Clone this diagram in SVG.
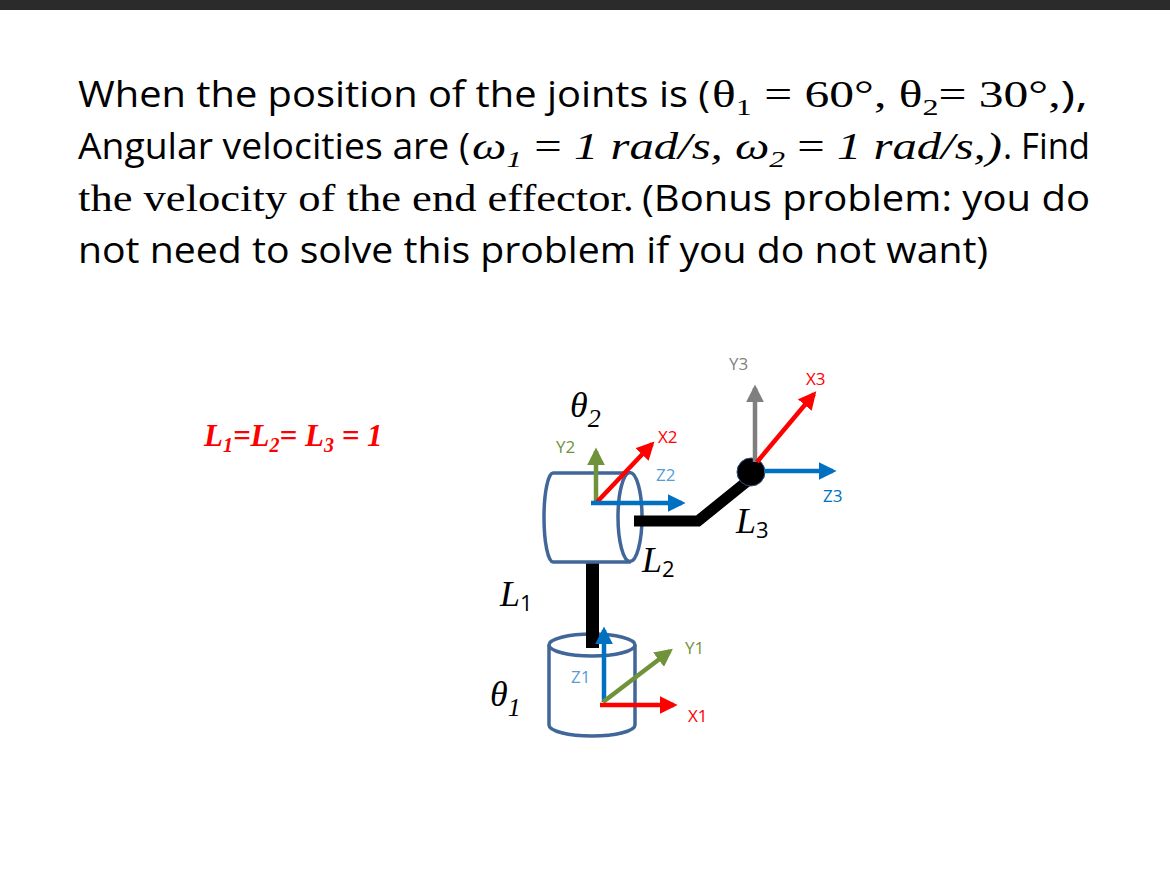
<svg xmlns="http://www.w3.org/2000/svg" width="1170" height="882" viewBox="0 0 1170 882">
<defs>
<style>
.s{font-family:"Open Sans","Liberation Sans",sans-serif;font-size:36px;fill:#000}
.r{font-family:"Liberation Serif",serif;font-size:37px;fill:#000}
.ax{font-family:"Open Sans","Liberation Sans",sans-serif;font-size:17px}
.m{font-family:"Liberation Serif",serif;font-style:italic;font-size:36px;fill:#000}
.cyl{fill:#fff;stroke:#41679a;stroke-width:3.5}
</style>
<marker id="aR" viewBox="0 0 10 10" refX="8" refY="5" markerWidth="4" markerHeight="4" orient="auto"><path d="M0,0L10,5L0,10z" fill="#ff0000"/></marker>
<marker id="aB" viewBox="0 0 10 10" refX="8" refY="5" markerWidth="4" markerHeight="4" orient="auto"><path d="M0,0L10,5L0,10z" fill="#0070c0"/></marker>
<marker id="aG" viewBox="0 0 10 10" refX="8" refY="5" markerWidth="4" markerHeight="4" orient="auto"><path d="M0,0L10,5L0,10z" fill="#70923a"/></marker>
<marker id="aY" viewBox="0 0 10 10" refX="8" refY="5" markerWidth="4" markerHeight="4" orient="auto"><path d="M0,0L10,5L0,10z" fill="#7f7f7f"/></marker>
</defs>
<rect width="1170" height="882" fill="#fff"/>
<rect width="1170" height="10" fill="#2b2b2b"/>
<g id="text">
<text class="s" x="78" y="107" textLength="632" lengthAdjust="spacingAndGlyphs">When the position of the joints is (</text>
<text class="r" x="712" y="107" textLength="376" lengthAdjust="spacingAndGlyphs">θ<tspan font-size="24" dy="8">1</tspan><tspan dy="-8"> = 60°, θ</tspan><tspan font-size="24" dy="8">2</tspan><tspan dy="-8">= 30°,</tspan><tspan font-family="Open Sans,Liberation Sans,sans-serif">),</tspan></text>
<text class="s" x="78" y="159" textLength="392" lengthAdjust="spacingAndGlyphs">Angular velocities are (</text>
<text class="r" x="472" y="159" font-style="italic" textLength="530" lengthAdjust="spacingAndGlyphs">ω<tspan font-size="24" dy="8">1</tspan><tspan dy="-8" font-style="normal"> = </tspan>1 rad/s, ω<tspan font-size="24" dy="8">2</tspan><tspan dy="-8" font-style="normal"> = </tspan>1 rad/s,)</text>
<text class="s" x="1003" y="159" textLength="87" lengthAdjust="spacingAndGlyphs">. Find</text>
<text class="r" x="78" y="211" textLength="556" lengthAdjust="spacingAndGlyphs">the velocity of the end effector.</text>
<text class="s" x="642" y="211" textLength="448" lengthAdjust="spacingAndGlyphs">(Bonus problem: you do</text>
<text class="s" x="78" y="263" textLength="910" lengthAdjust="spacingAndGlyphs">not need to solve this problem if you do  not want)</text>
<text x="204" y="446" font-family="Liberation Serif,serif" font-style="italic" font-weight="bold" font-size="31" fill="#ff0000">L<tspan font-size="20" dy="6">1</tspan><tspan dy="-6">=L</tspan><tspan font-size="20" dy="6">2</tspan><tspan dy="-6">= L</tspan><tspan font-size="20" dy="6">3</tspan><tspan dy="-6"> = 1</tspan></text>
</g>
<g id="joint1">
<path class="cyl" d="M549,645 L549,725 A43,11 0 0 0 635,725 L635,645"/>
<ellipse class="cyl" cx="592" cy="645" rx="43" ry="11"/>
</g>
<g id="link1"><rect x="586" y="562" width="13" height="86" fill="#000"/></g>
<g id="joint2">
<path class="cyl" d="M553,473 L629,473 L629,562 L553,562 A9,44.5 0 0 1 553,473 z"/>
<ellipse class="cyl" cx="630" cy="517" rx="12" ry="44.5"/>
</g>
<g id="link2">
<path d="M634,521 L698,521 L750,479" fill="none" stroke="#000" stroke-width="11"/>
<circle cx="751" cy="472" r="14" fill="#000" stroke="#2f4f7f" stroke-width="1"/>
</g>
<g id="connectors" stroke-width="4.5" fill="none">
<line x1="604" y1="702" x2="604" y2="630" stroke="#0070c0" marker-end="url(#aB)"/>
<line x1="603" y1="702" x2="670" y2="651" stroke="#70923a" marker-end="url(#aG)"/>
<line x1="600" y1="705" x2="674" y2="705" stroke="#ff0000" marker-end="url(#aR)"/>
<line x1="596" y1="502" x2="596" y2="451" stroke="#70923a" marker-end="url(#aG)"/>
<line x1="597" y1="502" x2="652" y2="444" stroke="#ff0000" marker-end="url(#aR)"/>
<line x1="591" y1="503" x2="682" y2="503" stroke="#0070c0" marker-end="url(#aB)"/>
<line x1="755" y1="462" x2="755" y2="388" stroke="#7f7f7f" marker-end="url(#aY)"/>
<line x1="757" y1="462" x2="814" y2="394" stroke="#ff0000" marker-end="url(#aR)"/>
<line x1="764" y1="471" x2="833" y2="471" stroke="#0070c0" marker-end="url(#aB)"/>
</g>
<g id="labels">
<text class="ax" x="571" y="683" fill="#5b9bd5">Z1</text>
<text class="ax" x="685" y="654" fill="#70923a">Y1</text>
<text class="ax" x="688" y="722" fill="#ff0000">X1</text>
<text class="ax" x="556" y="453" fill="#70923a">Y2</text>
<text class="ax" x="658" y="443" fill="#ff0000">X2</text>
<text class="ax" x="656" y="481" fill="#5b9bd5">Z2</text>
<text class="ax" x="729" y="370" fill="#7f7f7f">Y3</text>
<text class="ax" x="806" y="385" fill="#ff0000">X3</text>
<text class="ax" x="823" y="502" fill="#0070c0">Z3</text>
<text class="m" x="570" y="417">θ<tspan font-size="26" dy="10">2</tspan></text>
<text class="m" x="642" y="572">L<tspan font-style="normal" font-family="Open Sans,sans-serif" font-size="22" dy="5">2</tspan></text>
<text class="m" x="736" y="533">L<tspan font-style="normal" font-family="Open Sans,sans-serif" font-size="22" dy="5">3</tspan></text>
<text class="m" x="500" y="606">L<tspan font-style="normal" font-family="Open Sans,sans-serif" font-size="22" dy="5">1</tspan></text>
<text class="m" x="490" y="706">θ<tspan font-size="26" dy="10">1</tspan></text>
</g>
</svg>
